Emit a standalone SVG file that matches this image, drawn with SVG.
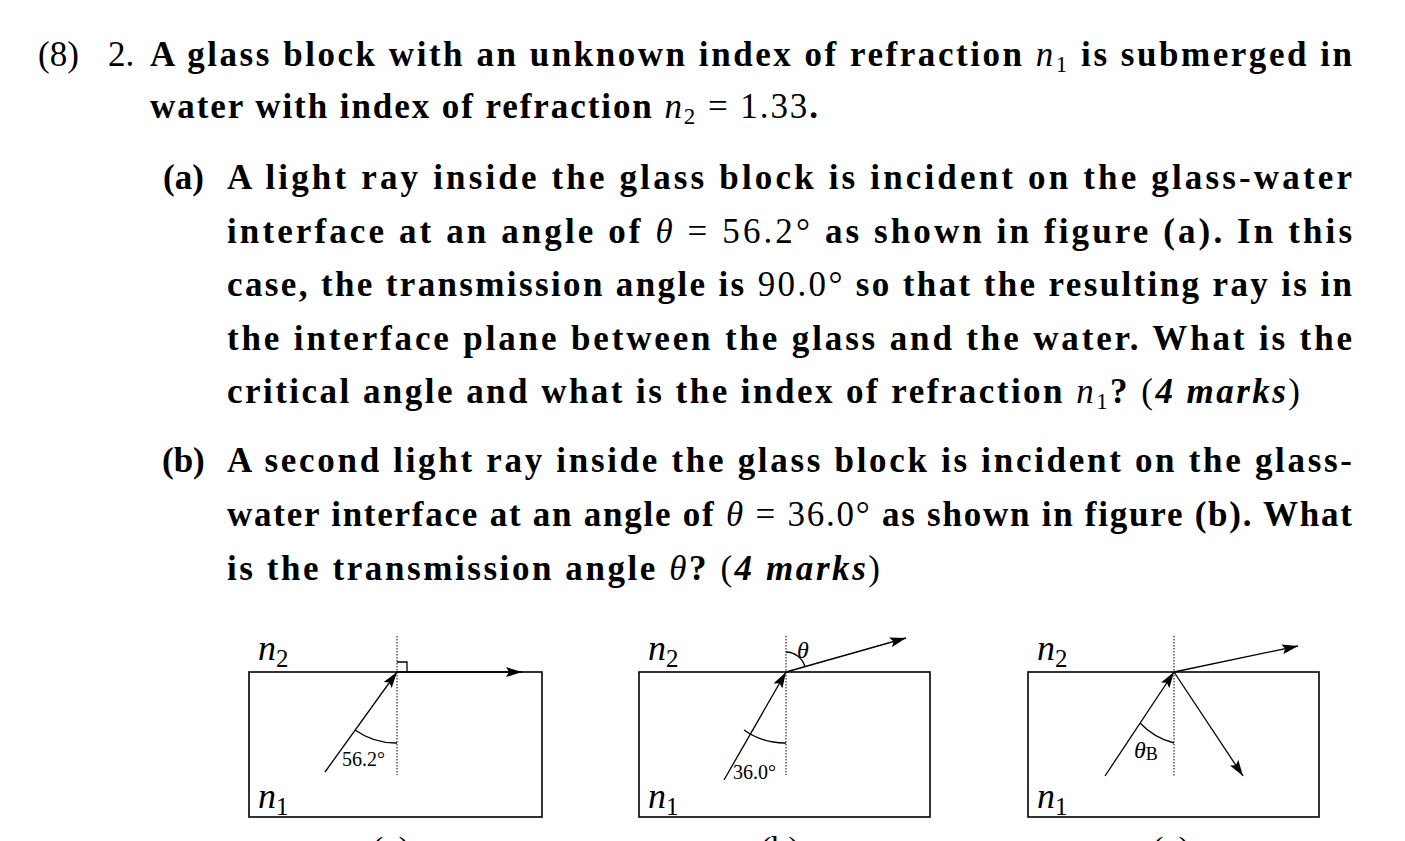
<svg xmlns="http://www.w3.org/2000/svg" width="1405" height="841" viewBox="0 0 1405 841">
<style>
.t{font-family:"Liberation Serif",serif;font-size:35px;font-weight:bold;fill:#000}
.r{font-weight:normal}
.m{font-style:italic;font-weight:normal}
.s{font-size:23px;font-weight:normal}
.f{font-family:"Liberation Serif",serif;fill:#000}
.box{fill:none;stroke:#000;stroke-width:1.6}
.ray{fill:none;stroke:#000;stroke-width:1.3}
.dot{stroke:#000;stroke-width:1;stroke-dasharray:1.5 1.5}
</style>
<defs><marker id="ah2" viewBox="0 0 16 10" refX="16" refY="5" markerWidth="16" markerHeight="10" markerUnits="userSpaceOnUse" orient="auto"><path d="M0,0 L16,5 L0,10 L3,5z" fill="#000"/></marker></defs>
<g id="text">
<text class="t r" x="38" y="66">(8)</text>
<text class="t r" x="108" y="66">2.</text>
<text class="t" x="150" y="66" textLength="1202" lengthAdjust="spacing">A glass block with an unknown index of refraction <tspan class="m">n</tspan><tspan class="s r" dy="6">1</tspan><tspan dy="-6"> is submerged in</tspan></text>
<text class="t" x="150" y="118" textLength="668" lengthAdjust="spacing">water with index of refraction <tspan class="m">n</tspan><tspan class="s r" dy="6">2</tspan><tspan class="r" dy="-6"> = 1.33</tspan>.</text>
<text class="t" x="163" y="189">(a)</text>
<text class="t" x="227" y="189" textLength="1125" lengthAdjust="spacing">A light ray inside the glass block is incident on the glass-water</text>
<text class="t" x="227" y="243" textLength="1125" lengthAdjust="spacing">interface at an angle of <tspan class="m">θ</tspan><tspan class="r"> = 56.2°</tspan> as shown in figure (a). In this</text>
<text class="t" x="227" y="296" textLength="1125" lengthAdjust="spacing">case, the transmission angle is <tspan class="r">90.0°</tspan> so that the resulting ray is in</text>
<text class="t" x="227" y="350" textLength="1125" lengthAdjust="spacing">the interface plane between the glass and the water. What is the</text>
<text class="t" x="227" y="403" textLength="1073" lengthAdjust="spacing">critical angle and what is the index of refraction <tspan class="m">n</tspan><tspan class="s r" dy="6">1</tspan><tspan dy="-6">? </tspan><tspan class="r">(</tspan><tspan font-style="italic">4 marks</tspan><tspan class="r">)</tspan></text>
<text class="t" x="162" y="472">(b)</text>
<text class="t" x="227" y="472" textLength="1125" lengthAdjust="spacing">A second light ray inside the glass block is incident on the glass-</text>
<text class="t" x="227" y="526" textLength="1125" lengthAdjust="spacing">water interface at an angle of <tspan class="m">θ</tspan><tspan class="r"> = 36.0°</tspan> as shown in figure (b). What</text>
<text class="t" x="227" y="580" textLength="653" lengthAdjust="spacing">is the transmission angle <tspan class="m">θ</tspan>? <tspan class="r">(</tspan><tspan font-style="italic">4 marks</tspan><tspan class="r">)</tspan></text>
</g>
<g id="figA">
<rect class="box" x="249" y="672" width="293" height="145"/>
<line class="dot" x1="397" y1="636" x2="397" y2="775"/>
<polyline class="ray" points="397,662 407,662 407,672"/>
<path class="ray" d="M355,730 A71,71 0 0 0 397,743"/>
<text class="f" x="258" y="660" font-size="36" font-style="italic">n<tspan font-size="25" font-style="normal" dy="7">2</tspan></text>
<text class="f" x="258" y="808" font-size="36" font-style="italic">n<tspan font-size="25" font-style="normal" dy="7">1</tspan></text>
<text class="f" x="342" y="766" font-size="20">56.2°</text>
</g>
<g id="figB">
<rect class="box" x="639" y="672" width="291" height="145"/>
<line class="dot" x1="786" y1="636" x2="786" y2="775"/>
<path class="ray" d="M744,730 A71,71 0 0 0 786,743"/>
<path class="ray" d="M786,652 A20,20 0 0 1 805,667"/>
<text class="f" x="797" y="658" font-size="24" font-style="italic">θ</text>
<text class="f" x="648" y="660" font-size="36" font-style="italic">n<tspan font-size="25" font-style="normal" dy="7">2</tspan></text>
<text class="f" x="648" y="808" font-size="36" font-style="italic">n<tspan font-size="25" font-style="normal" dy="7">1</tspan></text>
<text class="f" x="733" y="779" font-size="20">36.0°</text>
</g>
<g id="figC">
<rect class="box" x="1028" y="672" width="291" height="145"/>
<line class="dot" x1="1174" y1="636" x2="1174" y2="776"/>
<path class="ray" d="M1140,723 A71,71 0 0 0 1174,743"/>
<text class="f" x="1134" y="758" font-size="24" font-style="italic">θ<tspan font-size="18" font-style="normal" dy="2">B</tspan></text>
<text class="f" x="1037" y="660" font-size="36" font-style="italic">n<tspan font-size="25" font-style="normal" dy="7">2</tspan></text>
<text class="f" x="1037" y="808" font-size="36" font-style="italic">n<tspan font-size="25" font-style="normal" dy="7">1</tspan></text>
</g>
<g id="connectors">
<line class="ray" x1="325" y1="772" x2="397" y2="672" marker-end="url(#ah2)"/>
<line class="ray" x1="397" y1="672" x2="522" y2="672" marker-end="url(#ah2)"/>
<line class="ray" x1="724" y1="780" x2="786" y2="672" marker-end="url(#ah2)"/>
<line class="ray" x1="786" y1="672" x2="906" y2="638" marker-end="url(#ah2)"/>
<line class="ray" x1="1105" y1="776" x2="1174" y2="672" marker-end="url(#ah2)"/>
<line class="ray" x1="1174" y1="672" x2="1243" y2="776" marker-end="url(#ah2)"/>
<line class="ray" x1="1174" y1="672" x2="1298" y2="646" marker-end="url(#ah2)"/>
</g>
<g id="captions">
<text class="f" x="372" y="860" font-size="34">(a)</text>
<text class="f" x="760" y="860" font-size="34">(b)</text>
<text class="f" x="1152" y="860" font-size="34">(c)</text>
</g>
</svg>
